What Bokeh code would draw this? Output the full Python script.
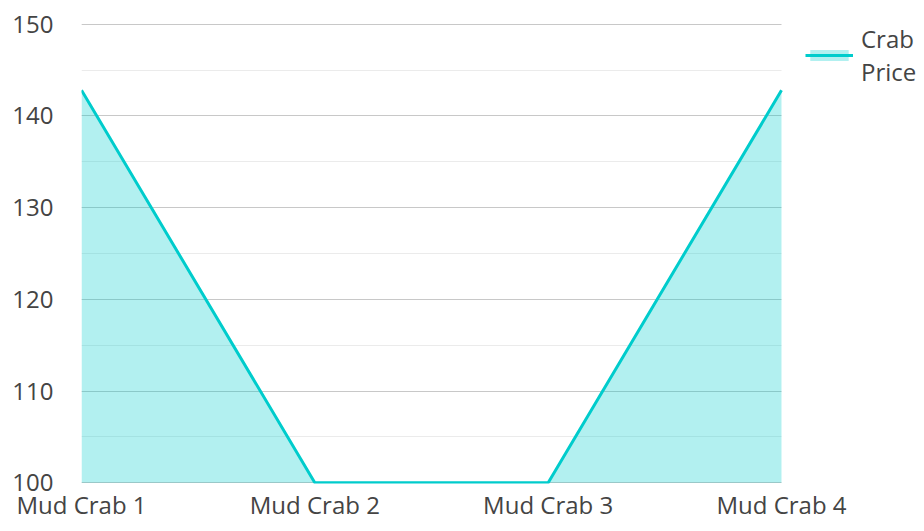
from bokeh.plotting import figure
from bokeh.models import Range1d, SingleIntervalTicker, FixedTicker, Legend, LegendItem, BoxAnnotation
from bokeh.embed import file_html
from bokeh.resources import INLINE

categories = ["Mud Crab 1", "Mud Crab 2", "Mud Crab 3", "Mud Crab 4"]
prices = [142.8, 100, 100, 142.8]
series_name = "Crab\nPrice"
y_min, y_max = 100, 150

xs = list(range(len(categories)))
base = [y_min] * len(categories)

LINE = "#00cccc"
FONT = "Open Sans"

W, H = 916, 523
LEFT, TOP = 81, 23
DATA_W = 700           # pixel width used by the data, the rest of the frame holds the legend
FRAME_W = W - LEFT
x_end = (len(categories) - 1) * FRAME_W / DATA_W

p = figure(width=W, height=H, output_backend="svg", toolbar_location=None,
           x_range=Range1d(0, x_end), y_range=Range1d(y_min - 0.08, y_max + 0.08),
           min_border_left=LEFT, min_border_right=0, min_border_top=TOP, min_border_bottom=30)
p.outline_line_color = None
p.background_fill_color = "white"
p.border_fill_color = "white"

p.xgrid.grid_line_color = None
p.ygrid.grid_line_color = "#c8c8c8"
p.ygrid.grid_line_width = 1.2
p.ygrid.minor_grid_line_color = "#ebebeb"
p.ygrid.minor_grid_line_width = 1.2

# hide grid lines in the legend area (right of the last category)
cover = BoxAnnotation(left=len(categories) - 1, fill_color="white", fill_alpha=1,
                      line_color=None, level="underlay")
p.add_layout(cover)

ar = p.varea(x=xs, y1=base, y2=prices, fill_color=LINE, fill_alpha=0.3)
ln = p.line(x=xs, y=prices, line_color=LINE, line_width=3)

p.yaxis.ticker = SingleIntervalTicker(interval=10, num_minor_ticks=2)
p.xaxis.ticker = FixedTicker(ticks=xs)
p.xaxis.major_label_overrides = {i: c for i, c in enumerate(categories)}

for ax in (p.xaxis[0], p.yaxis[0]):
    ax.axis_line_color = None
    ax.major_tick_line_color = None
    ax.minor_tick_line_color = None
    ax.major_tick_out = 0
    ax.major_tick_in = 0
    ax.minor_tick_out = 0
    ax.minor_tick_in = 0
    ax.major_label_text_font = FONT
    ax.major_label_text_font_size = "24px"
    ax.major_label_text_color = "#444444"
    ax.major_label_text_line_height = 1.0
p.yaxis.major_label_standoff = 28
p.xaxis.major_label_standoff = 4

legend = Legend(items=[LegendItem(label=series_name, renderers=[ar, ln])],
                location=(724, 395), margin=0, padding=0,
                border_line_color=None, background_fill_alpha=0,
                label_text_font=FONT, label_text_font_size="24px",
                label_text_color="#444444", glyph_width=48, glyph_height=14,
                label_standoff=8)
p.add_layout(legend, "center")

open("out.html", "w").write(file_html(p, INLINE))
